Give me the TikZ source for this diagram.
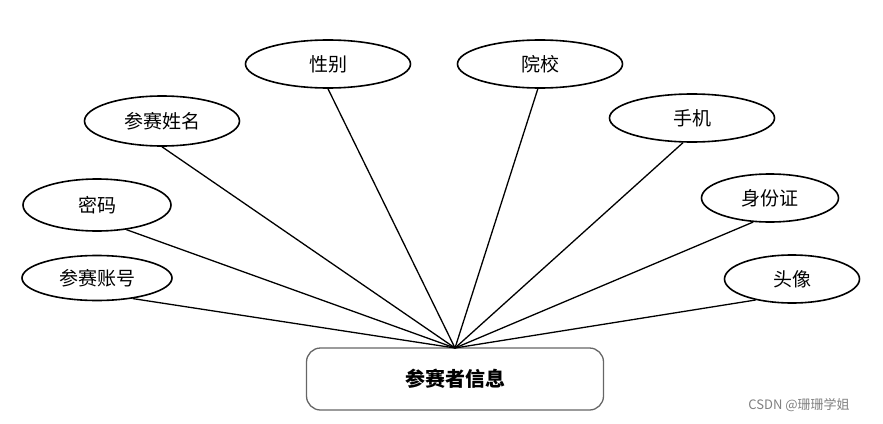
\documentclass[tikz,border=0pt]{standalone}
\usepackage{fontspec}
\newfontfamily\cjk{Noto Sans CJK SC}
\usetikzlibrary{shapes.geometric}
\begin{document}
\begin{tikzpicture}[x=1pt,y=-1pt,
  attr/.style={draw,line width=1.6pt,ellipse,inner sep=0pt,font=\cjk\fontsize{19}{22}\selectfont},
  link/.style={line width=1.3pt}]
\useasboundingbox (0,0) rectangle (883,423);
\node[attr,minimum width=165,minimum height=48] (xb) at (328,64) {性别};
\node[attr,minimum width=165,minimum height=48] (yx) at (540,64) {院校};
\node[attr,minimum width=155,minimum height=50] (xm) at (162,121) {参赛姓名};
\node[attr,minimum width=165,minimum height=48] (sj) at (692,118) {手机};
\node[attr,minimum width=148,minimum height=52] (mm) at (97,205) {密码};
\node[attr,minimum width=137,minimum height=48] (sf) at (770,198) {身份证};
\node[attr,minimum width=150,minimum height=45] (zh) at (97,278) {参赛账号};
\node[attr,minimum width=135,minimum height=48] (tx) at (792,279) {头像};
\node[draw=gray!80!black,line width=1.3pt,rounded corners=14pt,minimum width=297,minimum height=62,
  font=\cjk\bfseries\fontsize{20}{24}\selectfont] (main) at (455,379) {参赛者信息};
\coordinate (apex) at (455,348);
\draw[link] (xb.south) -- (apex);
\draw[link] (yx.-95) -- (apex);
\draw[link] (xm.south) -- (apex);
\draw[link] (sj.-110) -- (apex);
\draw[link] (mm.-40) -- (apex);
\draw[link] (sf.-125) -- (apex);
\draw[link] (zh.-30) -- (apex);
\draw[link] (tx.-150) -- (apex);
\node[text=gray,font=\cjk\fontsize{13}{15}\selectfont] (wm) at (799,405) {CSDN @珊珊学姐};
\end{tikzpicture}
\end{document}
